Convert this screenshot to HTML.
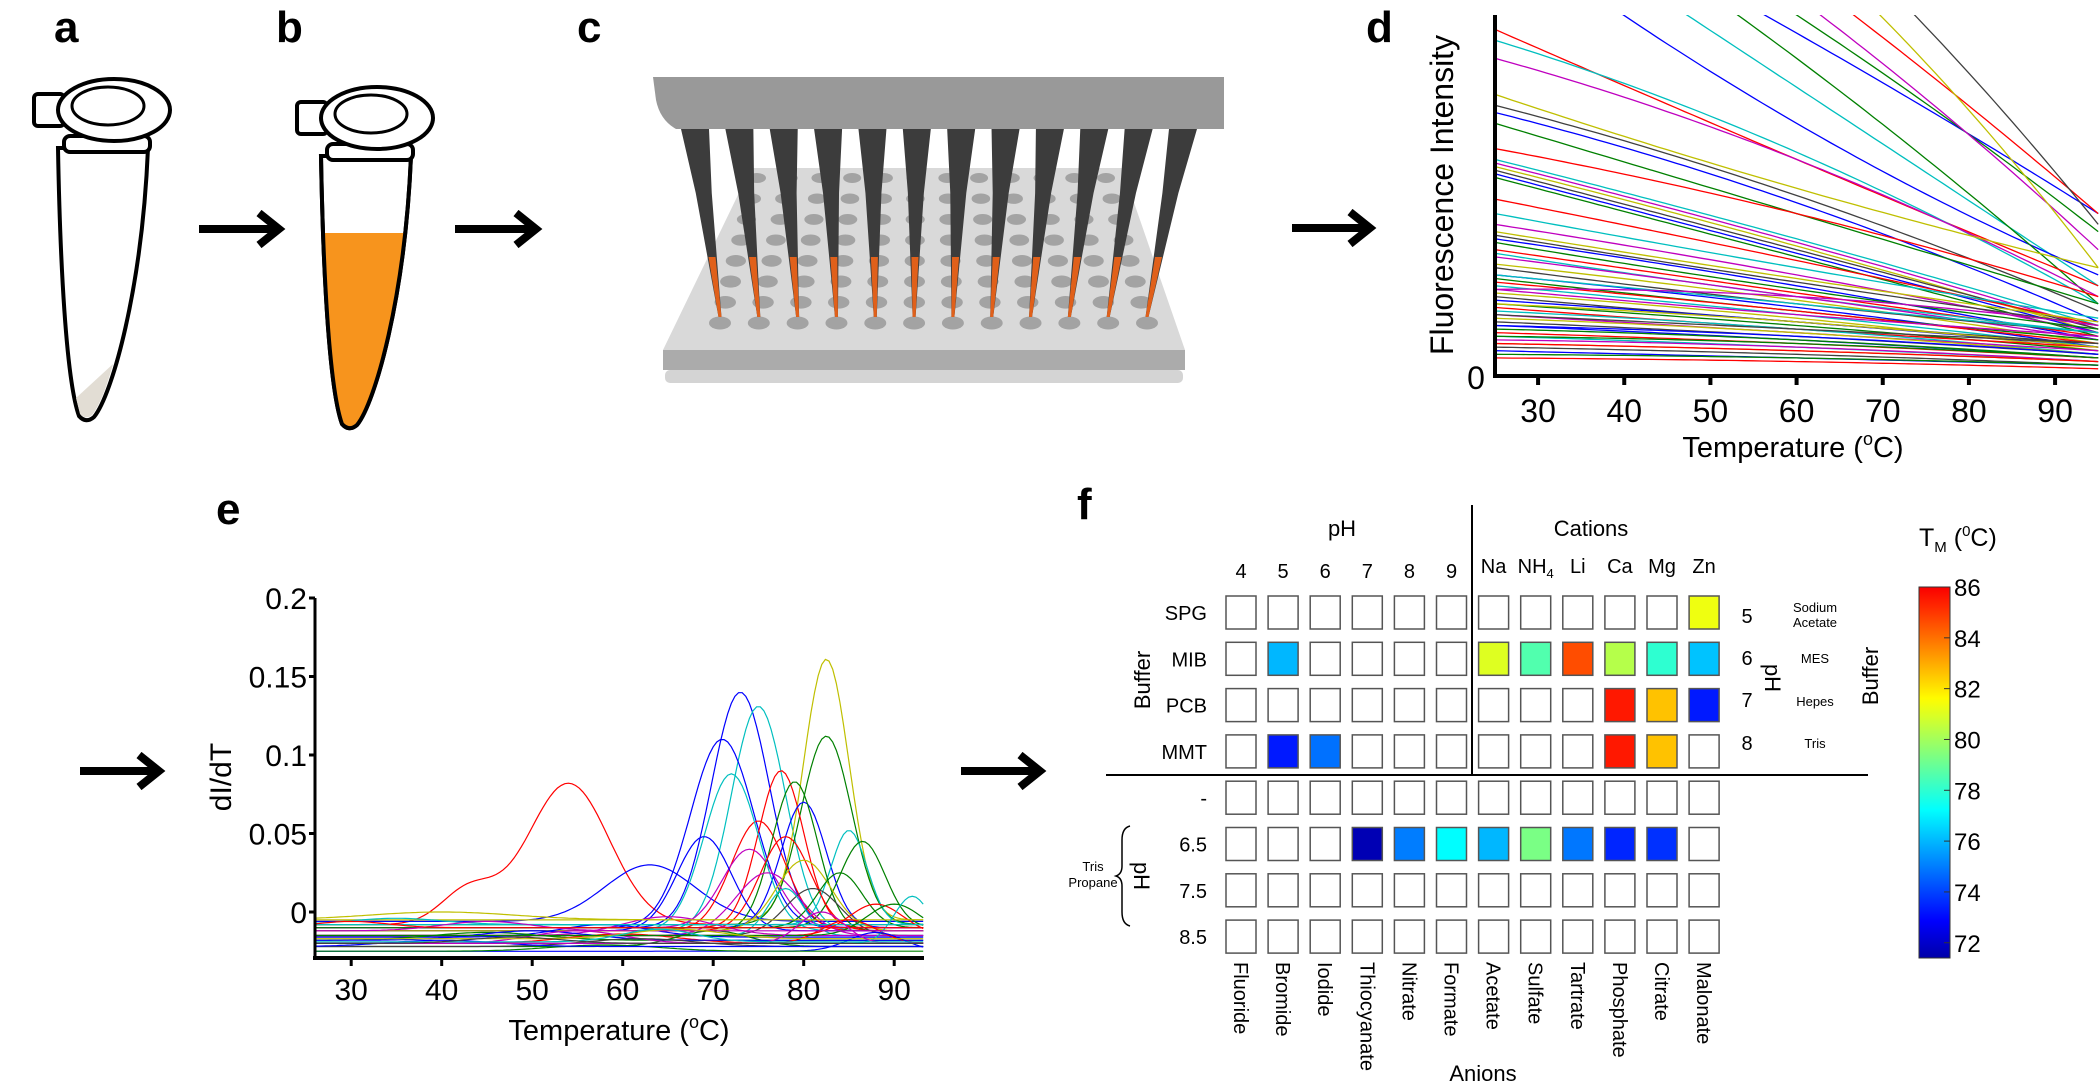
<!DOCTYPE html>
<html><head><meta charset="utf-8"><title>Thermal shift assay figure</title>
<style>
html,body{margin:0;padding:0;background:#fff;}
svg{display:block;font-family:"Liberation Sans",Arial,sans-serif;}
</style></head>
<body>
<svg id="fig" width="2100" height="1084" viewBox="0 0 2100 1084" xmlns="http://www.w3.org/2000/svg">
<defs>
  <clipPath id="clipD"><rect x="1495" y="15" width="605" height="361"/></clipPath>
  <clipPath id="clipE"><rect x="316" y="560" width="610" height="398"/></clipPath>
  <clipPath id="clipOrange"><rect x="0" y="225" width="700" height="300"/></clipPath>
  <linearGradient id="jetGrad" x1="0" y1="1" x2="0" y2="0"></linearGradient>
</defs>

<g font-weight="bold" font-size="44" fill="#000">
  <text x="54" y="42">a</text>
  <text x="276" y="42">b</text>
  <text x="577" y="42">c</text>
  <text x="1366" y="42">d</text>
  <text x="216" y="524">e</text>
  <text x="1077" y="519">f</text>
</g>

<g stroke="#000" stroke-width="4" fill="#fff">
  <rect x="34" y="94" width="30" height="32" rx="4"/>
  <path d="M58 148 L148 148 C142 290 112 395 94 417 Q86 424 79 416 C66 380 60 260 58 148 Z"/>
  <path d="M76 398 L113 364 C106 390 98 408 92 415 Q86 420 80 414 Z" fill="#e2ddd4" stroke="none"/>
  <rect x="64" y="136" width="86" height="16" rx="6"/>
  <ellipse cx="114" cy="110" rx="56" ry="31"/>
  <ellipse cx="108" cy="106" rx="36" ry="19" stroke-width="3"/>
</g>
<g transform="translate(263,8)" stroke="#000" stroke-width="4" fill="#fff">
  <rect x="34" y="94" width="30" height="32" rx="4"/>
  <path d="M58 148 L148 148 C142 290 112 395 94 417 Q86 424 79 416 C66 380 60 260 58 148 Z"/>
  <path d="M58 148 L148 148 C142 290 112 395 94 417 Q86 424 79 416 C66 380 60 260 58 148 Z" fill="#f7941d" stroke="none" clip-path="url(#clipOrange)"/>
  <path d="M58 148 L148 148 C142 290 112 395 94 417 Q86 424 79 416 C66 380 60 260 58 148 Z" fill="none"/>
  <rect x="64" y="136" width="86" height="16" rx="6"/>
  <ellipse cx="114" cy="110" rx="56" ry="31"/>
  <ellipse cx="108" cy="106" rx="36" ry="19" stroke-width="3"/>
</g>

<g id="arrows" stroke="#000" stroke-width="8" fill="none" stroke-linecap="butt"></g>

<g id="plate">
  <path d="M663 350 L751 168 L1122 168 L1185 350 Z" fill="#d9d9d9"/>
  <rect x="663" y="350" width="522" height="20" fill="#ababab"/>
  <rect x="665" y="370" width="518" height="13" rx="5" fill="#d4d4d4"/>
  <g id="wells" fill="#a3a3a3"></g>
  <g id="tips"></g>
  <path d="M653 77 L1224 77 L1224 129 L676 129 Q660 120 656 100 Z" fill="#999999"/>
</g>

<g id="panelD">
  <g id="dLines" clip-path="url(#clipD)" fill="none" stroke-width="1.3"></g>
  <line x1="1495" y1="15" x2="1495" y2="378" stroke="#000" stroke-width="4"/>
  <line x1="1493" y1="376" x2="2100" y2="376" stroke="#000" stroke-width="4"/>
  <g id="dTicks" font-size="32" text-anchor="middle"></g>
  <text x="1476" y="389" font-size="32" text-anchor="middle">0</text>
  <text transform="translate(1453,195) rotate(-90)" font-size="32" text-anchor="middle">Fluorescence Intensity</text>
  <text x="1793" y="457" font-size="29" text-anchor="middle">Temperature (<tspan font-size="18" dy="-12">o</tspan><tspan dy="12">C)</tspan></text>
</g>

<g id="panelE">
  <g id="eLines" clip-path="url(#clipE)" fill="none" stroke-width="1.2"></g>
  <line x1="315" y1="598" x2="315" y2="960" stroke="#000" stroke-width="3"/>
  <line x1="313" y1="958" x2="924" y2="958" stroke="#000" stroke-width="4"/>
  <g id="eTicks" font-size="30"></g>
  <text transform="translate(231,777) rotate(-90)" font-size="30" text-anchor="middle">dI/dT</text>
  <text x="619" y="1040" font-size="29" text-anchor="middle">Temperature (<tspan font-size="18" dy="-12">o</tspan><tspan dy="12">C)</tspan></text>
</g>

<g id="panelF" font-size="20">
  <line x1="1472" y1="505" x2="1472" y2="775" stroke="#000" stroke-width="2"/>
  <line x1="1106" y1="775" x2="1868" y2="775" stroke="#000" stroke-width="2"/>
  <text x="1342" y="536" font-size="22" text-anchor="middle">pH</text>
  <text x="1591" y="536" font-size="22" text-anchor="middle">Cations</text>
  <g id="fCells"></g>
  <g id="fColLabels" text-anchor="middle"></g>
  <g id="fRowLabels" text-anchor="end"></g>
  <g id="fAnions"></g>
  <text transform="translate(1150,680) rotate(-90)" font-size="22" text-anchor="middle">Buffer</text>
  <text transform="translate(1878,676) rotate(-90)" font-size="22" text-anchor="middle">Buffer</text>
  <text transform="translate(1765,678) rotate(90)" font-size="22" text-anchor="middle">pH</text>
  <g font-size="20" text-anchor="middle">
    <text x="1747" y="623">5</text>
    <text x="1747" y="665">6</text>
    <text x="1747" y="707">7</text>
    <text x="1747" y="750">8</text>
  </g>
  <g font-size="13" text-anchor="middle">
    <text x="1815" y="612">Sodium</text>
    <text x="1815" y="627">Acetate</text>
    <text x="1815" y="663">MES</text>
    <text x="1815" y="706">Hepes</text>
    <text x="1815" y="748">Tris</text>
    <text x="1093" y="871">Tris</text>
    <text x="1093" y="887">Propane</text>
  </g>
  <path d="M1130 826 Q1122 828 1122 840 L1122 866 Q1122 874 1116 876 Q1122 878 1122 886 L1122 912 Q1122 924 1130 926" fill="none" stroke="#000" stroke-width="1.5"/>
  <text transform="translate(1134,876) rotate(90)" font-size="22" text-anchor="middle">pH</text>
  <text x="1483" y="1081" font-size="22" text-anchor="middle">Anions</text>
  <rect x="1919" y="587" width="31" height="371" fill="url(#jetGrad)" stroke="#333" stroke-width="1"/>
  <g id="cbTicks" font-size="24"></g>
  <text x="1919" y="546" font-size="25">T<tspan font-size="15" dy="6">M</tspan><tspan dy="-6"> (</tspan><tspan font-size="15" dy="-10">0</tspan><tspan dy="10">C)</tspan></text>
</g>
</svg>

<script>
var NS = 'http://www.w3.org/2000/svg';
function mk(tag, attrs, parent){ var e=document.createElementNS(NS,tag); for(var k in attrs) e.setAttribute(k,attrs[k]); parent.appendChild(e); return e; }
var palette = ['#0000ff','#008000','#ff0000','#00bfbf','#bf00bf','#bfbf00','#404040'];

var dTicks = [30,40,50,60,70,80,90];
var dStart = [140,150,170,135,160,180,195,125,145,96,93,88,78,75,73,70,63,60,59,58,57,56,55,49,45,42,40,39,38,37,35,34,33,31,30,28,27,26,25,24,23,22,21,20,19,18,17,16,15,14,13,12,11,10,9,8,7,6,5,28,24,20,17,14,11,9];
var dMid   = [ 95,100,112, 80,105,122,132, 70, 88,60,62,60,52,50,48,45,45,38,37,36,35,34,33,32,30,28,27,26,25,24,23,22,22,21,20,19,18,18,17,17,16,15,15,14,13,13,12,12,11,10,10, 9, 8, 8, 7, 6, 5, 5, 4,20,22,15,13,11, 9, 7];
var dEnd   = [ 45, 40, 45, 25, 35, 30, 42, 28, 20,25,20,22,30,18,15,20,22,14,13,12,13,12,11,14,16,12,15,14,10,13,11,12,10, 9,12, 8,10, 9, 8,11, 7, 9, 8, 7, 8, 6, 7, 6, 6, 5, 5, 5, 4, 4, 4, 3, 3, 3, 2,12,14, 8, 9, 6, 5, 4];
function dx(T){ return 1495 + (T-25)*(2055-1538)/60; }
function dy(v){ return 376 - v*(376-15)/100; }
(function(){
  var g=document.getElementById('dLines');
  for(var i=0;i<dStart.length;i++){
    var a=dStart[i], m=dMid[i], b=dEnd[i], pts=[];
    for(var T=25;T<=95.01;T+=1){
      var s=(T-25)/70, sm=0.5;
      var L0=(s-sm)*(s-1)/((0-sm)*(0-1)), L1=(s)*(s-1)/((sm)*(sm-1)), L2=s*(s-sm)/(1-sm);
      var v=a*L0+m*L1+b*L2;
      pts.push(dx(T).toFixed(1)+','+dy(v).toFixed(1));
    }
    var p=mk('polyline',{points:pts.join(' '),stroke:palette[i%7]},g);
    
    
  }
  var tg=document.getElementById('dTicks');
  dTicks.forEach(function(t){
    var l=mk('line',{x1:dx(t),x2:dx(t),y1:376,y2:385,stroke:'#000','stroke-width':4},tg);
    
    
    var tx=mk('text',{x:dx(t),y:422},tg); tx.textContent=t;
    
    
  });
})();

var eXTicks = [30,40,50,60,70,80,90];
var eYTicks = [0,0.05,0.1,0.15,0.2];
var eYLabels = ['0','0.05','0.1','0.15','0.2'];
var ePeakT  = [54,63,73,75,71,82.5,82.5,77.5,75,80,85,86.5,74,79,72,78,76,69,80,84,81,78,88,65,58,45,40,35,60,70,50,55,62,85,90,92,88,45,66,58,30,40,82,64,48];
var ePeakA  = [0.09,0.036,0.15,0.143,0.12,0.166,0.12,0.1,0.07,0.08,0.06,0.055,0.05,0.095,0.1,0.06,0.04,0.06,0.045,0.035,0.03,0.03,0.02,0.012,0.008,0.005,0.005,0.004,0.006,0.01,0.006,0.008,0.005,0.015,0.02,0.03,0.012,0.006,0.006,0.004,0.004,0.004,0.02,0.008,0.004];
var ePeakW  = [4.5,5,3.2,3,3.5,2.5,2.8,2.5,3,2.5,2,2.5,3,2.5,3,2.8,3.5,3,3,2.5,3,2,3,5,5,6,8,5,6,4,6,5,6,3,3,2,3,5,5,6,4,6,2.5,4,5];
var eBase   = [-0.008,-0.006,-0.01,-0.012,-0.01,-0.005,-0.008,-0.01,-0.012,-0.01,-0.008,-0.01,-0.01,-0.012,-0.012,-0.012,-0.015,-0.012,-0.012,-0.01,-0.015,-0.015,-0.015,-0.015,-0.016,-0.018,-0.005,-0.008,-0.02,-0.022,-0.018,-0.02,-0.022,-0.02,-0.015,-0.02,-0.025,-0.012,-0.017,-0.025,-0.01,-0.022,-0.02,-0.019,-0.02];
var eShoulderT = [43];
var eShoulderA = [0.022];
var eColors = ['#ff0000','#0000ff','#0000ff','#00bfbf','#0000ff','#bfbf00','#008000','#ff0000','#ff0000','#0000ff','#00bfbf','#008000','#bf00bf','#008000','#00bfbf','#ff0000','#bf00bf','#0000ff','#bfbf00','#008000','#404040','#00bfbf','#ff0000','#bf00bf','#0000ff','#008000','#bfbf00','#00bfbf','#ff0000','#008000','#0000ff','#bf00bf','#404040','#ff0000','#008000','#00bfbf','#0000ff','#bf00bf','#bfbf00','#008000','#ff0000','#0000ff','#bf00bf','#00bfbf','#404040'];
function ex(T){ return 315 + (T-26)*(894-351)/60; }
function ey(v){ return 912 - v*(912-598)/0.2; }
(function(){
  var g=document.getElementById('eLines');
  for(var i=0;i<ePeakT.length;i++){
    var pts=[];
    for(var T=26;T<=93.4;T+=0.4){
      var v=eBase[i]+ePeakA[i]*Math.exp(-0.5*Math.pow((T-ePeakT[i])/ePeakW[i],2));
      if(i===0) v+=eShoulderA[0]*Math.exp(-0.5*Math.pow((T-eShoulderT[0])/3,2));
      pts.push(ex(T).toFixed(1)+','+ey(v).toFixed(1));
    }
    var p=mk('polyline',{points:pts.join(' '),stroke:eColors[i]},g);
    
    
  }
  var tg=document.getElementById('eTicks');
  eXTicks.forEach(function(t){
    var l=mk('line',{x1:ex(t),x2:ex(t),y1:958,y2:966,stroke:'#000','stroke-width':3},tg);
    
    
    var tx=mk('text',{x:ex(t),y:1000,'text-anchor':'middle'},tg); tx.textContent=t;
    
    
  });
  eYTicks.forEach(function(t,k){
    var l=mk('line',{x1:309,x2:315,y1:ey(t),y2:ey(t),stroke:'#000','stroke-width':3},tg);
    
    
    var tx=mk('text',{x:307,y:ey(t)+11,'text-anchor':'end'},tg); tx.textContent=eYLabels[k];
    
    
  });
})();

var fColLabels = ['4','5','6','7','8','9','Na','NH4','Li','Ca','Mg','Zn'];
var fRowLabels = ['SPG','MIB','PCB','MMT','-','6.5','7.5','8.5'];
var fAnions = ['Fluoride','Bromide','Iodide','Thiocyanate','Nitrate','Formate','Acetate','Sulfate','Tartrate','Phosphate','Citrate','Malonate'];
var cbTicks = [72,74,76,78,80,82,84,86];
var fTm = [
 [null,null,null,null,null,null,null,null,null,null,null,81.3],
 [null,76.0,null,null,null,null,81.0,78.6,84.6,80.3,78.0,76.2],
 [null,null,null,null,null,null,null,null,null,85.5,82.6,73.3],
 [null,73.3,74.8,null,null,null,null,null,null,85.5,82.6,null],
 [null,null,null,null,null,null,null,null,null,null,null,null],
 [null,null,null,71.6,75.0,77.2,76.0,79.3,74.9,73.5,73.7,null],
 [null,null,null,null,null,null,null,null,null,null,null,null],
 [null,null,null,null,null,null,null,null,null,null,null,null]
];
var tmMin=71.4, tmMax=86.0;
function clamp(x){ return Math.max(0,Math.min(1,x)); }
function jet(t){ var s=0.04+0.84*t; var r=clamp(1.5-Math.abs(4*s-3)), g=clamp(1.5-Math.abs(4*s-2)), b=clamp(1.5-Math.abs(4*s-1)); return 'rgb('+Math.round(r*255)+','+Math.round(g*255)+','+Math.round(b*255)+')'; }
function fx(c){ return 1226 + c*42.1; }
function fy(r){ return 596 + r*46.3; }
function cby(v){ return 958 - (v-tmMin)*(958-587)/(tmMax-tmMin); }
(function(){
  var gr=document.getElementById('jetGrad');
  for(var k=0;k<=20;k++){ mk('stop',{offset:k/20,'stop-color':jet(k/20)},gr); }
  var g=document.getElementById('fCells');
  for(var r=0;r<fTm.length;r++) for(var c=0;c<fTm[r].length;c++){
    var v=fTm[r][c];
    var rc=mk('rect',{x:fx(c),y:fy(r),width:30,height:33,fill:v===null?'#fff':jet((v-tmMin)/(tmMax-tmMin)),stroke:'#555','stroke-width':1.5},g);
    
    
  }
  var cl=document.getElementById('fColLabels');
  fColLabels.forEach(function(s,c){
    var t=mk('text',{x:fx(c)+15,y:c<6?578:573},cl);
    if(s==='NH4'){ t.textContent='NH'; var ts=mk('tspan',{'font-size':13,dy:5},t); ts.textContent='4'; }
    else t.textContent=s;
    
    
  });
  var rl=document.getElementById('fRowLabels');
  fRowLabels.forEach(function(s,r){
    var t=mk('text',{x:1207,y:fy(r)+24},rl); t.textContent=s;
    
    
  });
  var al=document.getElementById('fAnions');
  fAnions.forEach(function(s,c){
    var t=mk('text',{transform:'translate('+(fx(c)+8)+',962) rotate(90)'},al); t.textContent=s;
    
    
  });
  var cb=document.getElementById('cbTicks');
  cbTicks.forEach(function(v){
    var l=mk('line',{x1:1944,x2:1950,y1:cby(v),y2:cby(v),stroke:'#333','stroke-width':1},cb);
    
    
    var t=mk('text',{x:1954,y:cby(v)+9},cb); t.textContent=v;
    
    
  });
})();

(function(){
  var g=document.getElementById('arrows');
  [[199,281,229],[455,538,229],[1292,1372,228],[80,161,771],[961,1042,771]].forEach(function(a){
    var ln=mk('path',{d:'M'+a[0]+' '+a[2]+' L'+(a[1]-3)+' '+a[2]+' M'+(a[1]-22)+' '+(a[2]-16)+' L'+(a[1]-2)+' '+a[2]+' L'+(a[1]-22)+' '+(a[2]+16)},g);
    
    
  });
})();

(function(){
  var w=document.getElementById('wells');
  for(var j=0;j<8;j++){
    var f=j/7, y=178+f*145, xl=757-f*37, xr=1106+f*41;
    for(var i=0;i<12;i++){
      var e=mk('ellipse',{cx:xl+(xr-xl)*i/11,cy:y,rx:9+2*f,ry:5+1.5*f},w);
      
      
    }
  }
  var t=document.getElementById('tips');
  for(var i=0;i<12;i++){
    var xt=695+i*(1183-695)/11, xb=720+i*(1147-720)/11, xm=xt+(xb-xt)*0.35;
    var p=mk('path',{d:'M'+(xt-14)+' 129 L'+(xt+14)+' 129 L'+(xm+8)+' 193 L'+(xb+1.5)+' 317 L'+(xb-1.5)+' 317 L'+(xm-8)+' 193 Z',fill:'#3c3c3c'},t);
    
    
    var xo=xt+(xb-xt)*(257-129)/188;
    var o=mk('path',{d:'M'+(xo-3.5)+' 257 L'+(xo+3.5)+' 257 L'+(xb+1.5)+' 317 L'+(xb-1.5)+' 317 Z',fill:'#e0601a'},t);
    
    
  }
})();
</script>
</body></html>
